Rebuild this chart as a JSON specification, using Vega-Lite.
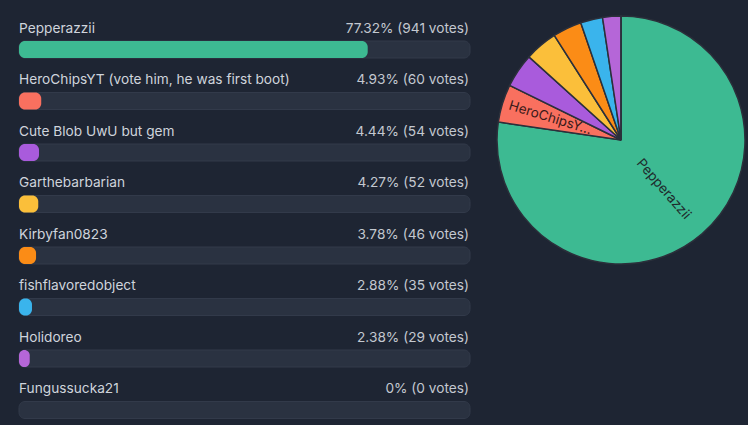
{
  "$schema": "https://vega.github.io/schema/vega-lite/v6.json",
  "background": "#1e2533",
  "padding": {"left": 18, "top": 13, "right": 0, "bottom": 0},
  "config": {"view": {"stroke": null}, "font": "Inter", "concat": {"spacing": 23}},
  "data": {"values": [
    {"name": "Pepperazzii", "votes": 941, "pct": 77.32, "label": "77.32% (941 votes)", "color": "#3dba92"},
    {"name": "HeroChipsYT (vote him, he was first boot)", "votes": 60, "pct": 4.93, "label": "4.93% (60 votes)", "color": "#f9705f"},
    {"name": "Cute Blob UwU but gem", "votes": 54, "pct": 4.44, "label": "4.44% (54 votes)", "color": "#a95bdc"},
    {"name": "Garthebarbarian", "votes": 52, "pct": 4.27, "label": "4.27% (52 votes)", "color": "#fbbf3a"},
    {"name": "Kirbyfan0823", "votes": 46, "pct": 3.78, "label": "3.78% (46 votes)", "color": "#fb8c16"},
    {"name": "fishflavoredobject", "votes": 35, "pct": 2.88, "label": "2.88% (35 votes)", "color": "#3ab4ec"},
    {"name": "Holidoreo", "votes": 29, "pct": 2.38, "label": "2.38% (29 votes)", "color": "#b566d8"},
    {"name": "Fungussucka21", "votes": 0, "pct": 0, "label": "0% (0 votes)", "color": "#888888"}
  ]},
  "hconcat": [
    {
      "width": 451,
      "height": 412,
      "layer": [
        {
          "mark": {"type": "bar", "height": 17, "yOffset": 10.75, "cornerRadius": 6, "color": "#2a3241", "stroke": "#323a4a", "strokeWidth": 1},
          "encoding": {
            "y": {"field": "name", "type": "nominal", "sort": null, "axis": null, "scale": {"paddingInner": 0, "paddingOuter": 0}},
            "x": {"datum": 100, "type": "quantitative", "scale": {"domain": [0, 100]}, "axis": null}
          }
        },
        {
          "transform": [{"filter": "datum.votes > 0"}],
          "mark": {"type": "bar", "height": 17, "yOffset": 10.75, "cornerRadius": 6},
          "encoding": {
            "y": {"field": "name", "type": "nominal", "sort": null, "axis": null},
            "x": {"field": "pct", "type": "quantitative", "axis": null, "stack": null},
            "color": {"field": "color", "type": "nominal", "scale": null, "legend": null}
          }
        },
        {
          "mark": {"type": "text", "align": "left", "baseline": "middle", "yOffset": -10.25, "fontSize": 13.7, "color": "#cfd4dc"},
          "encoding": {
            "y": {"field": "name", "type": "nominal", "sort": null, "axis": null},
            "x": {"datum": 0, "type": "quantitative", "axis": null},
            "text": {"field": "name"}
          }
        },
        {
          "mark": {"type": "text", "align": "right", "baseline": "middle", "yOffset": -10.25, "dx": -1, "fontSize": 13.7, "color": "#c3c8d0"},
          "encoding": {
            "y": {"field": "name", "type": "nominal", "sort": null, "axis": null},
            "x": {"datum": 100, "type": "quantitative", "axis": null},
            "text": {"field": "label"}
          }
        }
      ]
    },
    {
      "width": 250,
      "height": 254,
      "layer": [
        {
          "mark": {"type": "arc", "outerRadius": 124, "stroke": "#2b303b", "strokeWidth": 1.5},
          "encoding": {
            "theta": {"field": "votes", "type": "quantitative", "stack": true},
            "order": {"field": "pct", "type": "quantitative", "sort": "descending"},
            "color": {"field": "color", "type": "nominal", "scale": null, "legend": null}
          }
        },
        {
          "mark": {"type": "text", "radius": 65, "angle": 49, "fontSize": 13.5, "color": "#1e2a2c", "align": "center", "baseline": "middle"},
          "encoding": {
            "theta": {"field": "votes", "type": "quantitative", "stack": true},
            "order": {"field": "pct", "type": "quantitative", "sort": "descending"},
            "text": {"condition": {"test": "datum.votes > 100", "field": "name"}, "value": ""}
          }
        },
        {
          "mark": {"type": "text", "radius": 74, "angle": 17, "fontSize": 13.5, "color": "#3a1a1a", "align": "center", "baseline": "middle", "limit": 90},
          "encoding": {
            "theta": {"field": "votes", "type": "quantitative", "stack": true},
            "order": {"field": "pct", "type": "quantitative", "sort": "descending"},
            "text": {"condition": {"test": "datum.votes == 60", "field": "name"}, "value": ""}
          }
        }
      ]
    }
  ]
}
